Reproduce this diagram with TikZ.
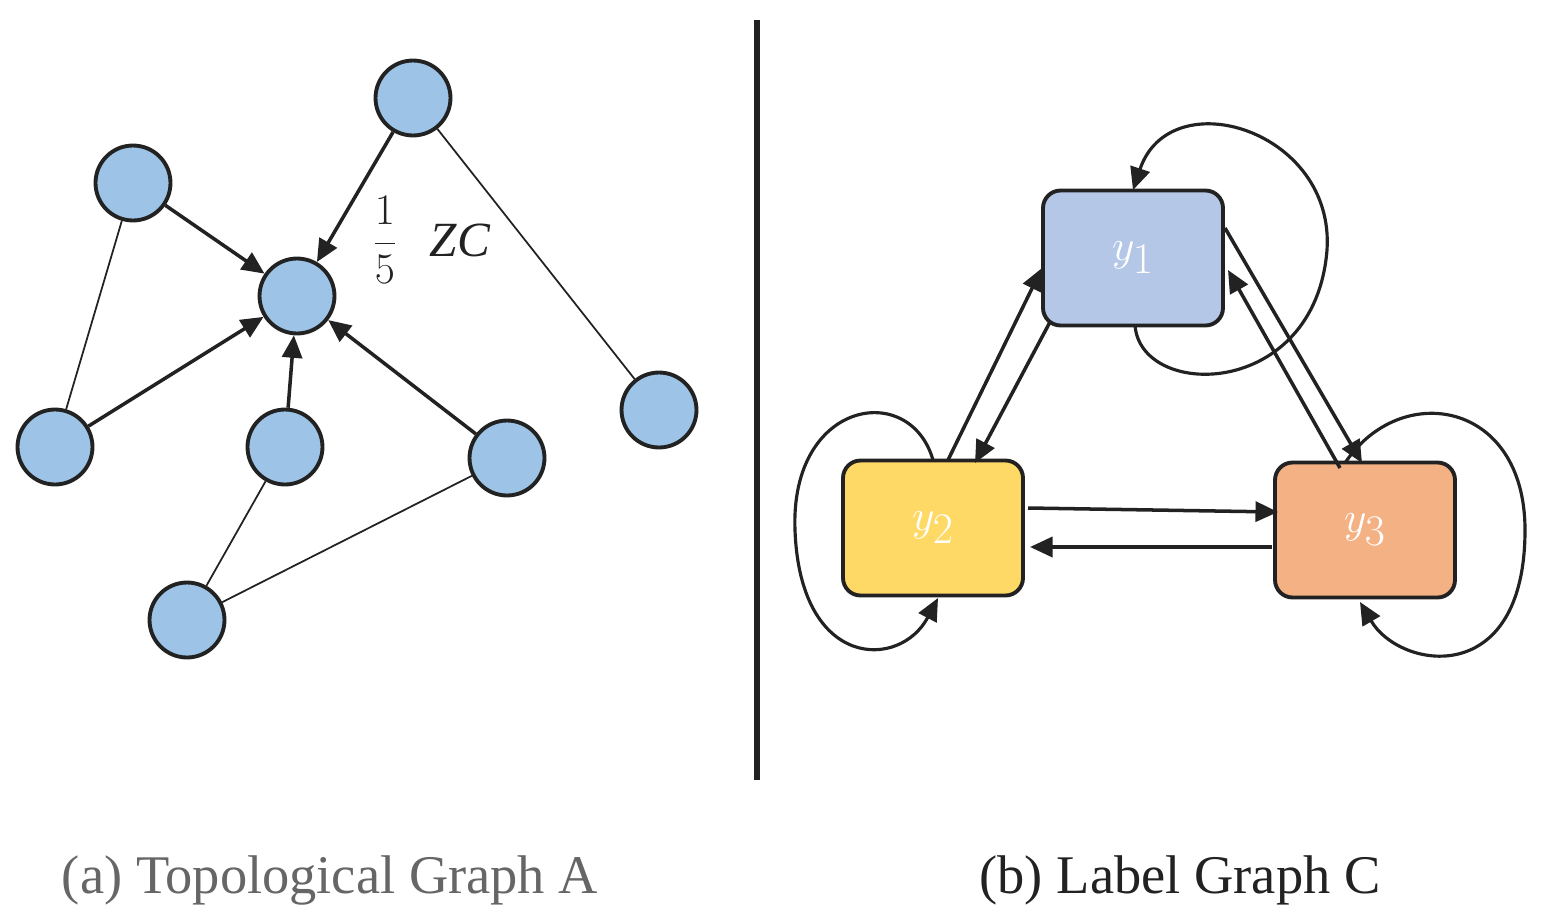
\documentclass[tikz,border=0pt]{standalone}
\usepackage{fontspec}
\setmainfont{Liberation Serif}
\usetikzlibrary{arrows.meta}
\definecolor{cb}{HTML}{9DC3E6}
\definecolor{c1}{HTML}{B4C7E7}
\definecolor{c2}{HTML}{FFD966}
\definecolor{c3}{HTML}{F4B183}
\definecolor{tx}{HTML}{222222}
\begin{document}
\begin{tikzpicture}[x=0.02cm,y=-0.02cm,
 v/.style={circle,draw=tx,line width=2.2pt,fill=cb,minimum size=1.5cm,inner sep=0},
 bx/.style={rounded corners=0.35cm,draw=tx,line width=2.2pt,minimum width=3.6cm,minimum height=2.7cm,text=white,font=\fontsize{34}{34}\selectfont},
 ar/.style={draw=tx,line width=2pt,-{Triangle[length=0.45cm,width=0.4cm]}},
 th/.style={draw=tx,line width=1pt},
 lp/.style={draw=tx,line width=1.8pt,-{Triangle[length=0.45cm,width=0.4cm]}}]
\useasboundingbox (0,0) rectangle (1545,923);
\node[v] (A) at (413,98) {};
\node[v] (B) at (133,183) {};
\node[v] (C) at (297,296) {};
\node[v] (D) at (55,447) {};
\node[v] (E) at (285,447) {};
\node[v] (F) at (507,458) {};
\node[v] (G) at (187,620) {};
\node[v] (H) at (659,410) {};
\draw[th] (B)--(D); \draw[th] (A)--(H); \draw[th] (E)--(G); \draw[th] (F)--(G);
\draw[ar] (A)--(C); \draw[ar] (B)--(C); \draw[ar] (D)--(C); \draw[ar] (E)--(C); \draw[ar] (F)--(C);
\node[font=\fontsize{28}{28}\selectfont,text=tx] (fr) at (385,240) {$\displaystyle\frac{1}{5}$};
\node[font=\fontsize{28}{28}\selectfont,text=tx] (zc) at (460,240) {$\mathit{ZC}$};
\coordinate (t) at (757,20); \coordinate (b) at (757,780);
\draw[tx,line width=3pt] (t)--(b);
\node[bx,fill=c1] (y1) at (1133,258) {$y_1$};
\node[bx,fill=c2] (y2) at (933,528) {$y_2$};
\node[bx,fill=c3] (y3) at (1365,530) {$y_3$};
\coordinate (a1) at (948,460); \coordinate (a2) at (1042,268);
\draw[ar] (a1)--(a2);
\coordinate (b1) at (1050,322); \coordinate (b2) at (975,463);
\draw[ar] (b1)--(b2);
\coordinate (c1) at (1225,228); \coordinate (c2) at (1362,463);
\draw[ar] (c1)--(c2);
\coordinate (d1) at (1340,468); \coordinate (d2) at (1228,270);
\draw[ar] (d1)--(d2);
\coordinate (e1) at (1028,508); \coordinate (e2) at (1278,512);
\draw[ar] (e1)--(e2);
\coordinate (f1) at (1272,547); \coordinate (f2) at (1030,547);
\draw[ar] (f1)--(f2);
\coordinate (l1) at (1135,325); \coordinate (l1e) at (1133,190);
\draw[lp] (l1) .. controls (1140,400) and (1315,400) .. (1327,250) .. controls (1335,130) and (1170,80) .. (l1e);
\coordinate (l2) at (933,460); \coordinate (l2e) at (938,598);
\draw[lp] (l2) .. controls (910,380) and (790,400) .. (795,530) .. controls (800,670) and (900,670) .. (l2e);
\coordinate (l3) at (1345,463); \coordinate (l3e) at (1360,602);
\draw[lp] (l3) .. controls (1400,380) and (1525,400) .. (1525,530) .. controls (1525,690) and (1400,670) .. (l3e);
\node[text=gray!80!black,font=\fontsize{31}{31}\selectfont] (ca) at (330,880) {(a) Topological Graph A};
\node[text=tx,font=\fontsize{31}{31}\selectfont] (cb) at (1180,880) {(b) Label Graph C};
\end{tikzpicture}
\end{document}
